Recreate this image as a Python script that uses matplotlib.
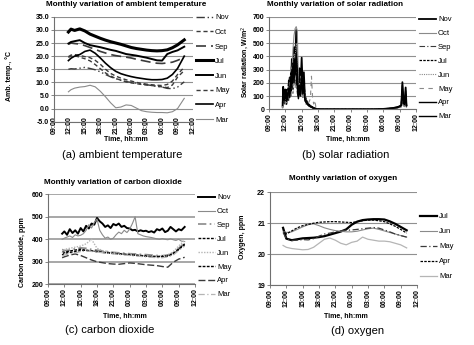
import numpy as np
import matplotlib
matplotlib.use("Agg")
import matplotlib.pyplot as plt
from matplotlib import font_manager

# ── Fonts ─────────────────────────────────
_names = {f.name for f in font_manager.fontManager.ttflist}
NARROW = "Liberation Sans Narrow" if "Liberation Sans Narrow" in _names else "Liberation Sans"
plt.rcParams["font.family"] = [NARROW, "DejaVu Sans"]

# ── Data: ambient temperature (°C) ────────
ta = [11.8, 12.3, 13, 14, 15, 16, 17, 18, 19, 20, 21, 22, 23, 24, 25, 26, 27, 28, 29, 30, 31, 32, 33, 34.3]
temp_nov = [15.0, 15.2, 15.1, 15.4, 15.7, 15.3, 14.8, 14.0, 13.0, 12.1, 11.4, 10.8, 10.3, 10.0, 9.7, 9.4, 9.1, 8.8, 8.5, 8.2, 7.7, 7.6, 8.2, 10.2]
temp_oct = [19.5, 20.0, 20.2, 19.6, 19.0, 18.2, 16.8, 15.2, 13.6, 12.4, 11.5, 10.8, 10.2, 9.8, 9.5, 9.2, 9.0, 8.8, 8.5, 8.3, 8.0, 9.0, 12.0, 14.5]
temp_sep = [24.5, 25.0, 24.8, 24.6, 24.0, 23.3, 22.6, 21.8, 21.2, 20.6, 20.2, 19.9, 19.6, 19.3, 18.8, 18.4, 18.0, 17.6, 17.3, 17.2, 17.4, 17.7, 18.4, 19.5]
temp_jul = [29.2, 30.3, 29.8, 30.4, 29.6, 28.4, 27.6, 26.8, 26.1, 25.5, 25.0, 24.5, 23.9, 23.3, 22.9, 22.6, 22.3, 22.1, 22.0, 22.1, 22.4, 23.2, 24.3, 26.2]
temp_jun = [24.8, 25.4, 25.7, 26.1, 25.0, 24.2, 23.8, 23.4, 22.9, 22.4, 22.0, 21.4, 20.8, 20.5, 20.2, 19.8, 19.4, 18.9, 18.4, 18.3, 20.8, 21.6, 22.2, 23.6]
temp_may = [19.8, 20.4, 20.6, 20.3, 19.8, 19.4, 18.4, 16.9, 15.0, 13.4, 12.4, 11.6, 11.0, 10.5, 10.0, 9.6, 9.3, 9.1, 8.9, 8.8, 9.2, 10.5, 13.0, 15.8]
temp_apr = [18.3, 19.2, 20.0, 20.6, 21.8, 22.3, 21.1, 19.3, 17.3, 15.6, 14.2, 13.3, 12.7, 12.2, 11.8, 11.5, 11.2, 11.0, 11.0, 11.1, 11.6, 13.0, 15.3, 20.0]
temp_mar = [6.4, 7.2, 7.8, 8.2, 8.4, 8.9, 8.3, 6.6, 4.5, 2.2, 0.3, 0.6, 1.4, 1.2, 0.2, -0.8, -1.2, -1.4, -1.5, -1.5, -1.6, -1.2, 0.0, 3.9]

# ── Data: solar radiation (W/m²) ──────────
tb = [11.5, 11.6, 11.8, 12.0, 12.2, 12.4, 12.6, 12.8, 13.0, 13.2, 13.4, 13.6, 13.8, 14.0, 14.2, 14.4,
      14.6, 14.8, 15.0, 15.2, 15.4, 15.6, 15.8, 16.0, 16.2, 16.4, 16.6, 16.8, 17.0, 17.2, 17.4, 17.6,
      17.8, 18.0, 19.0, 22.0, 25.0, 28.0, 30.0, 31.5, 32.5, 33.0, 33.3, 33.5, 33.7, 33.9, 34.1, 34.25]
sol_nov = [20, 170, 60, 150, 40, 150, 90, 240, 130, 380, 200, 470, 310, 600, 250, 130, 310, 180, 390, 150, 280, 90, 60, 45,
           35, 30, 25, 20, 15, 10, 8, 5, 3, 2, 0, 0, 0, 0, 3, 8, 15, 22, 30, 205, 60, 40, 165, 30]
sol_oct = [10, 60, 120, 40, 100, 60, 180, 90, 320, 240, 450, 560, 610, 625, 590, 200, 140, 250, 120, 200, 90, 130, 70, 50,
           40, 30, 20, 15, 12, 8, 5, 3, 2, 1, 0, 0, 0, 0, 2, 6, 12, 18, 25, 120, 40, 30, 90, 20]
sol_sep = [30, 80, 40, 110, 70, 130, 60, 180, 100, 250, 150, 300, 180, 220, 120, 90, 160, 110, 200, 80, 150, 60, 40, 35,
           28, 22, 18, 14, 10, 8, 5, 3, 2, 1, 0, 0, 0, 0, 2, 5, 10, 15, 20, 60, 30, 25, 40, 15]
sol_jul = [40, 140, 90, 60, 150, 100, 220, 150, 280, 190, 350, 240, 420, 300, 200, 120, 240, 140, 300, 180, 220, 110, 80, 60,
           45, 35, 28, 22, 16, 12, 8, 5, 3, 2, 0, 0, 0, 0, 3, 7, 14, 20, 28, 150, 50, 35, 120, 25]
sol_jun = [20, 50, 100, 70, 90, 140, 110, 200, 160, 300, 260, 420, 380, 500, 430, 180, 200, 160, 240, 130, 170, 100, 70, 55,
           40, 30, 22, 18, 14, 10, 7, 4, 2, 1, 0, 0, 0, 0, 2, 5, 10, 15, 22, 90, 35, 25, 70, 18]
sol_may = [15, 40, 30, 60, 50, 80, 70, 110, 90, 150, 120, 200, 160, 230, 180, 110, 130, 100, 150, 90, 120, 80, 60, 50,
           45, 60, 80, 250, 90, 40, 70, 20, 10, 5, 0, 0, 0, 0, 2, 5, 8, 12, 18, 50, 25, 20, 45, 12]
sol_apr = [50, 120, 150, 80, 130, 70, 160, 120, 200, 300, 230, 380, 260, 420, 300, 100, 180, 130, 260, 200, 160, 80, 70, 50,
           40, 30, 24, 18, 14, 10, 6, 4, 2, 1, 0, 0, 0, 0, 3, 8, 16, 24, 32, 180, 70, 45, 140, 30]
sol_mar = [30, 100, 70, 130, 60, 110, 140, 90, 240, 160, 330, 200, 380, 240, 160, 80, 140, 100, 230, 120, 190, 70, 50, 40,
           30, 25, 20, 16, 12, 8, 6, 4, 2, 1, 0, 0, 0, 0, 2, 6, 12, 20, 28, 130, 45, 35, 110, 25]

# ── Data: carbon dioxide (ppm) ────────────
tc_fine = [11.6, 12.0, 12.5, 13.0, 13.5, 14.0, 14.5, 15.0, 15.5, 16.0, 16.5, 17.0, 17.5, 18.0, 18.5, 19.0,
           19.5, 20.0, 20.5, 21.0, 21.5, 22.0, 22.5, 23.0, 23.5, 24.0, 24.5, 25.0, 25.5, 26.0, 26.5, 27.0,
           27.5, 28.0, 28.5, 29.0, 29.5, 30.0, 30.5, 31.0, 31.5, 32.0, 32.5, 33.0, 33.5, 34.1]
co2_nov = [425, 435, 420, 445, 428, 440, 425, 450, 435, 460, 448, 470, 465, 495, 480, 470, 455, 462, 450, 468, 462, 470, 455,
           460, 450, 448, 440, 442, 435, 440, 436, 438, 432, 436, 430, 445, 440, 448, 432, 438, 455, 445, 435, 445, 440, 455]
co2_oct = [400, 405, 410, 415, 408, 420, 415, 418, 425, 440, 465, 450, 475, 490, 440, 420, 405, 410, 400, 405, 420, 432, 425,
           440, 430, 445, 470, 500, 425, 420, 415, 412, 410, 408, 405, 402, 400, 403, 400, 398, 402, 398, 395, 400, 392, 390]
tc = [11.6, 12, 13, 14, 15, 16, 17, 18, 19, 20, 21, 22, 23, 24, 25, 26, 27, 28, 29, 30, 31, 32, 33, 34.1]
co2_sep = [355, 350, 352, 358, 362, 360, 355, 352, 348, 345, 342, 340, 338, 336, 335, 333, 332, 330, 328, 327, 330, 340, 360, 385]
co2_jul = [345, 342, 348, 352, 356, 350, 348, 345, 342, 340, 338, 336, 334, 332, 330, 328, 326, 325, 324, 325, 328, 338, 355, 380]
co2_jun = [340, 355, 360, 365, 370, 380, 400, 360, 350, 345, 340, 338, 336, 334, 332, 330, 328, 327, 326, 327, 330, 345, 370, 395]
co2_may = [330, 338, 342, 345, 350, 352, 348, 346, 342, 340, 337, 335, 333, 331, 329, 327, 325, 323, 322, 322, 325, 335, 355, 375]
co2_apr = [318, 322, 330, 335, 328, 318, 308, 300, 296, 292, 290, 289, 292, 295, 293, 290, 287, 285, 283, 279, 276, 298, 312, 320]
co2_mar = [325, 330, 335, 340, 345, 348, 346, 344, 340, 338, 335, 333, 330, 328, 326, 324, 322, 320, 318, 318, 322, 330, 350, 370]

# ── Data: oxygen ──────────────────────────
td = [11.4, 12, 13, 14, 15, 16, 17, 18, 19, 20, 21, 22, 23, 24, 25, 26, 27, 28, 29, 30, 31, 32, 33, 34.1]
o2_jul = [20.85, 20.50, 20.45, 20.48, 20.51, 20.52, 20.53, 20.55, 20.58, 20.63, 20.68, 20.73, 20.80, 20.95, 21.05, 21.10, 21.12, 21.13, 21.13, 21.12, 21.06, 20.98, 20.88, 20.77]
o2_jun = [20.75, 20.70, 20.72, 20.80, 20.88, 20.95, 20.98, 20.92, 20.85, 20.80, 20.76, 20.74, 20.72, 20.72, 20.74, 20.78, 20.82, 20.84, 20.80, 20.75, 20.70, 20.65, 20.60, 20.55]
o2_may = [20.70, 20.50, 20.44, 20.45, 20.47, 20.46, 20.50, 20.58, 20.65, 20.68, 20.72, 20.75, 20.77, 20.78, 20.80, 20.82, 20.84, 20.86, 20.84, 20.78, 20.72, 20.65, 20.60, 20.55]
o2_apr = [20.80, 20.65, 20.75, 20.85, 20.92, 20.96, 21.00, 21.03, 21.04, 21.05, 21.05, 21.04, 21.03, 21.02, 21.05, 21.08, 21.10, 21.10, 21.08, 21.05, 20.98, 20.90, 20.80, 20.68]
o2_mar = [20.28, 20.22, 20.18, 20.16, 20.14, 20.15, 20.22, 20.35, 20.48, 20.52, 20.45, 20.35, 20.30, 20.38, 20.42, 20.55, 20.48, 20.45, 20.42, 20.42, 20.40, 20.35, 20.30, 20.20]

# ── Styles ────────────────────────────────
BLACK, DARK, GREY, LIGHT = "#000000", "#3a3a3a", "#8a8a8a", "#b5b5b5"
W, H = 474, 345
xticks = list(range(9, 37, 3))
xlabels = ["%02d:00" % (h % 24) for h in xticks]

fig = plt.figure(figsize=(W / 100, H / 100), dpi=100)


def px_axes(x0, x1, ytop, ybot):
    return fig.add_axes([x0 / W, 1 - ybot / H, (x1 - x0) / W, (ybot - ytop) / H])


def style(ax, ylim, yticks, yfmt, xpad=1.0, grid_lw=0.8):
    ax.set_xlim(9, 36)
    ax.set_ylim(*ylim)
    ax.set_yticks(yticks)
    ax.set_yticklabels([yfmt % v for v in yticks])
    ax.set_xticks(xticks)
    ax.set_xticklabels(xlabels, rotation=90)
    for s in ("top", "right"):
        ax.spines[s].set_visible(False)
    for s in ("left", "bottom"):
        ax.spines[s].set_color("#707070")
        ax.spines[s].set_linewidth(0.8)
    ax.tick_params(axis="both", labelsize=5, length=2, width=0.6, color="#707070")
    ax.tick_params(axis="x", pad=xpad)
    ax.tick_params(axis="y", pad=1.5)
    for lab in ax.get_xticklabels() + ax.get_yticklabels():
        lab.set_fontweight("bold")
    ax.grid(axis="y", color="#909090", lw=grid_lw)
    ax.set_axisbelow(True)


def legend(ax, x, y, spacing):
    ax.legend(loc="upper left", bbox_to_anchor=(x / W, 1 - y / H), bbox_transform=fig.transFigure,
              frameon=False, fontsize=5.5, handlelength=2.2, handletextpad=0.3,
              labelspacing=spacing, borderpad=0, borderaxespad=0)


def label_texts(cx_title, y_title, title, cx_x, y_x, ylab_x, ylab_y, ylab, cx_cap, y_cap, cap):
    fig.text(cx_title / W, 1 - y_title / H, title, ha="center", va="center", fontsize=5.9, fontweight="bold")
    fig.text(cx_x / W, 1 - y_x / H, "Time, hh:mm", ha="center", va="center", fontsize=5, fontweight="bold")
    fig.text(ylab_x / W, 1 - ylab_y / H, ylab, ha="center", va="center", rotation=90, fontsize=5, fontweight="bold")
    fig.text(cx_cap / W, 1 - y_cap / H, cap, ha="center", va="center", fontsize=8, family="Liberation Sans")


# ── (a) ambient temperature ──────────────
ax = px_axes(54, 193, 16.8, 121.7)
ax.plot(ta, temp_nov, color=DARK, lw=1.0, ls=(0, (6, 2, 1, 2, 1, 2)), label="Nov")
ax.plot(ta, temp_oct, color=DARK, lw=1.0, ls=(0, (3, 2)), label="Oct")
ax.plot(ta, temp_sep, color=DARK, lw=1.2, ls=(0, (6, 3)), label="Sep")
ax.plot(ta, temp_jul, color=BLACK, lw=2.2, label="Jul")
ax.plot(ta, temp_jun, color=BLACK, lw=1.4, label="Jun")
ax.plot(ta, temp_may, color=DARK, lw=1.0, ls=(0, (3, 2)), label="May")
ax.plot(ta, temp_apr, color=BLACK, lw=1.2, label="Apr")
ax.plot(ta, temp_mar, color=GREY, lw=0.8, label="Mar")
style(ax, (-5, 35), np.arange(-5, 36, 5), "%.1f", xpad=-6)
legend(ax, 196, 14, 0.95)
label_texts(126, 5, "Monthly variation of ambient temperature", 126, 139, 9, 76, "Amb. temp., °C",
            122, 155, "(a) ambient temperature")

# ── (b) solar radiation ──────────────────
ax = px_axes(269, 416, 16.7, 109.3)
ax.plot(tb, sol_nov, color=BLACK, lw=1.3, label="Nov")
ax.plot(tb, sol_oct, color=GREY, lw=0.8, label="Oct")
ax.plot(tb, sol_sep, color=DARK, lw=0.8, ls=(0, (5, 2, 1, 2)), label="Sep")
ax.plot(tb, sol_jul, color=BLACK, lw=0.9, ls=(0, (2, 1)), label="Jul")
ax.plot(tb, sol_jun, color=GREY, lw=0.8, ls=(0, (1, 1)), label="Jun")
ax.plot(tb, sol_may, color=GREY, lw=0.8, ls=(0, (4, 4)), label="May")
ax.plot(tb, sol_apr, color=BLACK, lw=1.0, label="Apr")
ax.plot(tb, sol_mar, color=BLACK, lw=1.0, label="Mar")
style(ax, (0, 700), np.arange(0, 701, 100), "%d")
legend(ax, 419, 16, 0.85)
label_texts(335, 5, "Monthly variation of solar radiation", 348, 139, 245, 62, "Solar radiation, W/m$^2$",
            346, 155, "(b) solar radiation")

# ── (c) carbon dioxide ───────────────────
ax = px_axes(48, 195, 194.3, 284.3)
ax.plot(tc_fine, co2_nov, color=BLACK, lw=1.4, label="Nov")
ax.plot(tc_fine, co2_oct, color=GREY, lw=0.8, label="Oct")
ax.plot(tc, co2_sep, color=GREY, lw=1.2, ls=(0, (5, 2, 1, 2)), label="Sep")
ax.plot(tc, co2_jul, color=BLACK, lw=1.0, ls=(0, (2, 1)), label="Jul")
ax.plot(tc, co2_jun, color=LIGHT, lw=1.0, ls=(0, (1, 1)), label="Jun")
ax.plot(tc, co2_may, color=BLACK, lw=1.0, ls=(0, (2, 1)), label="May")
ax.plot(tc, co2_apr, color=DARK, lw=1.0, ls=(0, (5, 2)), label="Apr")
ax.plot(tc, co2_mar, color=LIGHT, lw=0.9, ls=(0, (5, 2, 1, 2)), label="Mar")
style(ax, (200, 600), np.arange(200, 601, 100), "%d", grid_lw=1.1)
legend(ax, 198, 194, 0.85)
label_texts(113, 182, "Monthly variation of carbon dioxide", 125, 316, 23, 252, "Carbon dioxide, ppm",
            110, 330, "(c) carbon dioxide")

# ── (d) oxygen ───────────────────────────
ax = px_axes(270, 417, 192.3, 285)
ax.plot(td, o2_jul, color=BLACK, lw=1.6, label="Jul")
ax.plot(td, o2_jun, color=GREY, lw=0.8, label="Jun")
ax.plot(td, o2_may, color=DARK, lw=0.9, ls=(0, (5, 2, 1, 2)), label="May")
ax.plot(td, o2_apr, color=BLACK, lw=0.9, ls=(0, (2, 1)), label="Apr")
ax.plot(td, o2_mar, color=LIGHT, lw=0.9, label="Mar")
style(ax, (19, 22), [19, 20, 21, 22], "%d")
legend(ax, 420, 213, 1.0)
label_texts(343, 179, "Monthly variation of oxygen", 346, 316, 242, 237, "Oxygen, ppm",
            358, 331, "(d) oxygen")

fig.savefig("out.png", dpi=100)
